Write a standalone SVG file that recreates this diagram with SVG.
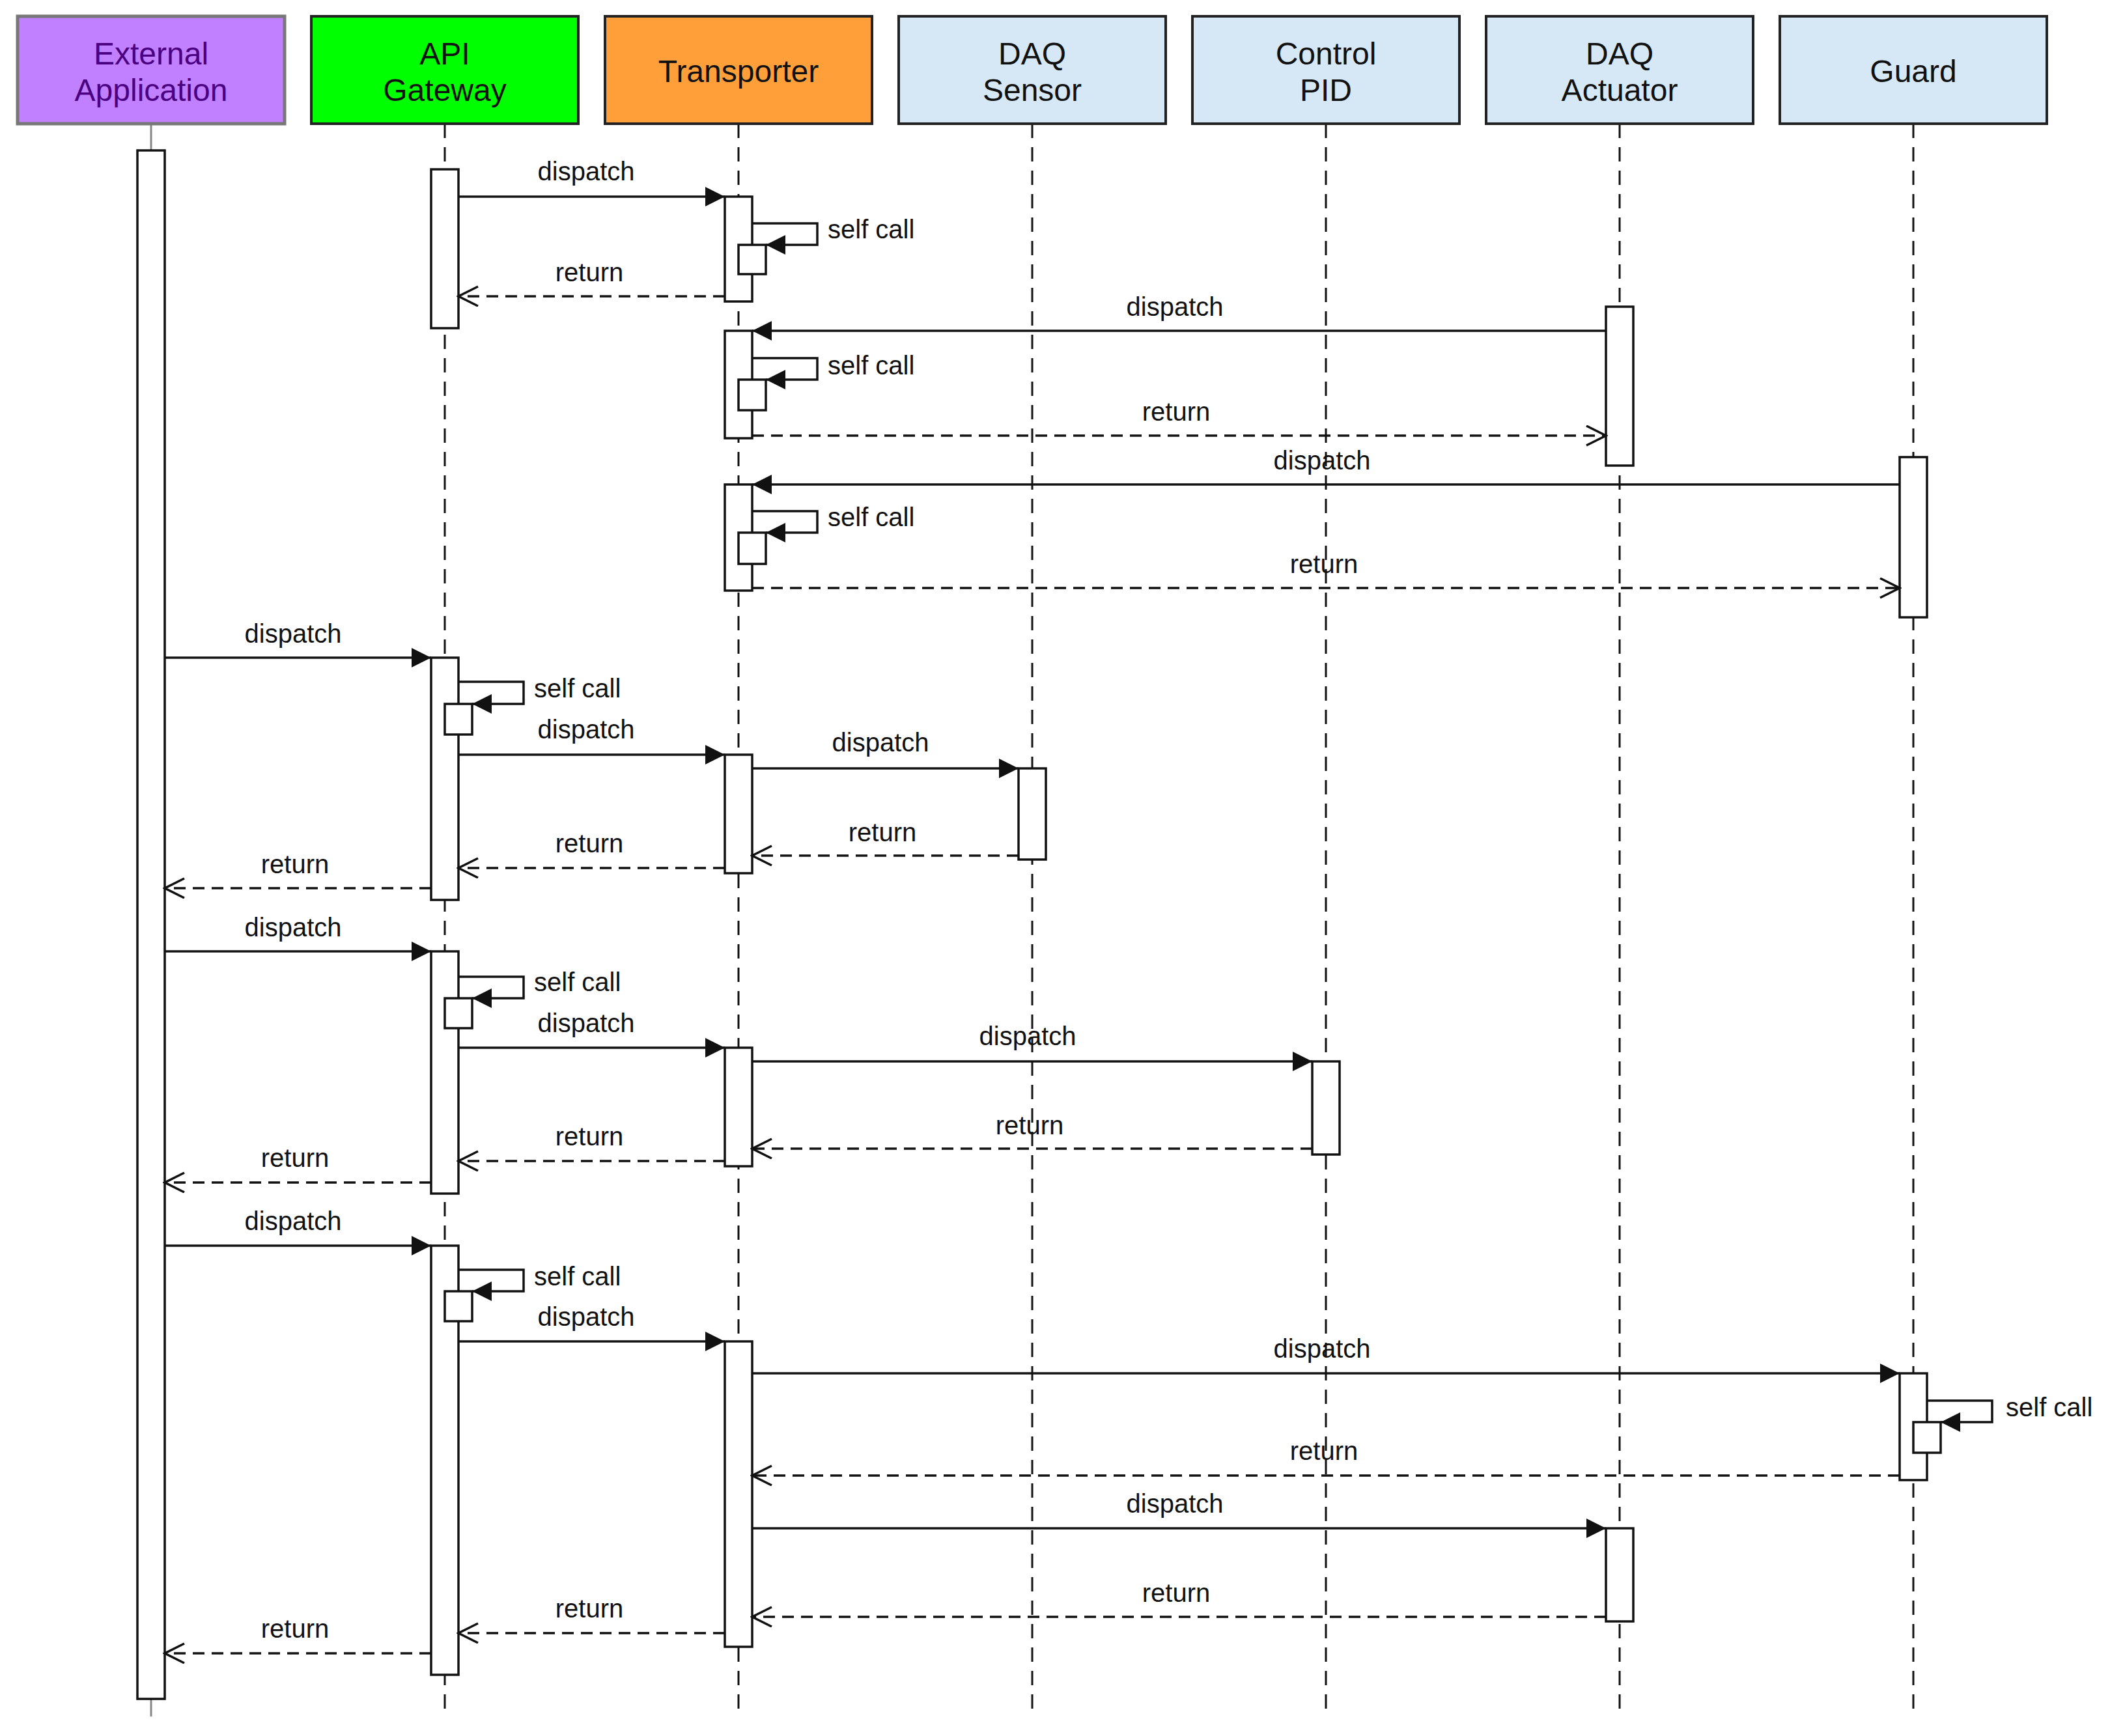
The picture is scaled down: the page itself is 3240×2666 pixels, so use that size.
<svg xmlns="http://www.w3.org/2000/svg" width="3240" height="2666" viewBox="0 0 3240 2666">
<style>
.hd{stroke:#222;stroke-width:4}
.ht{font-family:"Liberation Sans",Arial,sans-serif;font-size:48px;text-anchor:middle;fill:#111}
.ll{stroke:#111;stroke-width:3;stroke-dasharray:22 14;fill:none}
.bar{fill:#fff;stroke:#111;stroke-width:3.5}
.m{stroke:#111;stroke-width:3.5;fill:none}
.r{stroke:#111;stroke-width:3.5;fill:none;stroke-dasharray:18 11}
.lb{font-family:"Liberation Sans",Arial,sans-serif;font-size:40px;text-anchor:middle;fill:#111}
.sl{font-family:"Liberation Sans",Arial,sans-serif;font-size:40px;fill:#111}
</style>
<defs>
<marker id="f" markerUnits="userSpaceOnUse" markerWidth="32" markerHeight="32" refX="30" refY="15" orient="auto"><path d="M0,0 L30,15 L0,30 z" fill="#111"/></marker>
<marker id="o" markerUnits="userSpaceOnUse" markerWidth="34" markerHeight="34" refX="31" refY="16" orient="auto"><path d="M1,1 L31,16 L1,31" fill="none" stroke="#111" stroke-width="3.5"/></marker>
</defs>
<rect width="3240" height="2666" fill="#fff"/>
<g id="lifelines">
<line x1="232" y1="190" x2="232" y2="2636" stroke="#888" stroke-width="3"/>
<line class="ll" x1="683" y1="190" x2="683" y2="2636"/>
<line class="ll" x1="1134" y1="190" x2="1134" y2="2636"/>
<line class="ll" x1="1585" y1="190" x2="1585" y2="2636"/>
<line class="ll" x1="2036" y1="190" x2="2036" y2="2636"/>
<line class="ll" x1="2487" y1="190" x2="2487" y2="2636"/>
<line class="ll" x1="2938" y1="190" x2="2938" y2="2636"/>
</g>
<g id="ext"><rect x="27" y="25" width="410" height="165" fill="#C080FF" stroke="#777" stroke-width="5"/><text class="ht" x="232" y="99" fill="#4B0082" style="fill:#4B0082">External</text><text class="ht" x="232" y="155" style="fill:#4B0082">Application</text></g>
<g id="api"><rect class="hd" x="478" y="25" width="410" height="165" fill="#00FF00"/><text class="ht" x="683" y="99">API</text><text class="ht" x="683" y="155">Gateway</text></g>
<g id="transporter"><rect class="hd" x="929" y="25" width="410" height="165" fill="#FF9F3A"/><text class="ht" x="1134" y="126">Transporter</text></g>
<g id="sensor"><rect class="hd" x="1380" y="25" width="410" height="165" fill="#D6E8F5"/><text class="ht" x="1585" y="99">DAQ</text><text class="ht" x="1585" y="155">Sensor</text></g>
<g id="pid"><rect class="hd" x="1831" y="25" width="410" height="165" fill="#D6E8F5"/><text class="ht" x="2036" y="99">Control</text><text class="ht" x="2036" y="155">PID</text></g>
<g id="actuator"><rect class="hd" x="2282" y="25" width="410" height="165" fill="#D6E8F5"/><text class="ht" x="2487" y="99">DAQ</text><text class="ht" x="2487" y="155">Actuator</text></g>
<g id="guard"><rect class="hd" x="2733" y="25" width="410" height="165" fill="#D6E8F5"/><text class="ht" x="2938" y="126">Guard</text></g>
<g id="activations">
<rect class="bar" x="211" y="231" width="42" height="2378"/>
<rect class="bar" x="662" y="260" width="42" height="244"/>
<rect class="bar" x="1113" y="302" width="42" height="161"/>
<rect class="bar" x="1134" y="376" width="42" height="45"/>
<rect class="bar" x="2466" y="471" width="42" height="244"/>
<rect class="bar" x="1113" y="508" width="42" height="165"/>
<rect class="bar" x="1134" y="583" width="42" height="47"/>
<rect class="bar" x="2917" y="702" width="42" height="246"/>
<rect class="bar" x="1113" y="744" width="42" height="163"/>
<rect class="bar" x="1134" y="818" width="42" height="48"/>
<rect class="bar" x="662" y="1010" width="42" height="372"/>
<rect class="bar" x="683" y="1081" width="42" height="47"/>
<rect class="bar" x="1113" y="1159" width="42" height="182"/>
<rect class="bar" x="1564" y="1180" width="42" height="140"/>
<rect class="bar" x="662" y="1461" width="42" height="372"/>
<rect class="bar" x="683" y="1533" width="42" height="46"/>
<rect class="bar" x="1113" y="1609" width="42" height="182"/>
<rect class="bar" x="2015" y="1630" width="42" height="143"/>
<rect class="bar" x="662" y="1913" width="42" height="659"/>
<rect class="bar" x="683" y="1983" width="42" height="46"/>
<rect class="bar" x="1113" y="2060" width="42" height="469"/>
<rect class="bar" x="2917" y="2109" width="42" height="164"/>
<rect class="bar" x="2938" y="2184" width="42" height="47"/>
<rect class="bar" x="2466" y="2347" width="42" height="143"/>
</g>
<g id="connectors">
<line class="m" x1="704" y1="302" x2="1113" y2="302" marker-end="url(#f)"/><text class="lb" x="900" y="277">dispatch</text>
<path class="m" d="M1155,343 H1255 V376 H1176" marker-end="url(#f)"/><text class="sl" x="1271" y="366">self call</text>
<line class="r" x1="1113" y1="455" x2="704" y2="455" marker-end="url(#o)"/><text class="lb" x="905" y="432">return</text>
<line class="m" x1="2466" y1="508" x2="1155" y2="508" marker-end="url(#f)"/><text class="lb" x="1804" y="485">dispatch</text>
<path class="m" d="M1155,550 H1255 V583 H1176" marker-end="url(#f)"/><text class="sl" x="1271" y="575">self call</text>
<line class="r" x1="1155" y1="669" x2="2466" y2="669" marker-end="url(#o)"/><text class="lb" x="1806" y="646">return</text>
<line class="m" x1="2917" y1="744" x2="1155" y2="744" marker-end="url(#f)"/><text class="lb" x="2030" y="721">dispatch</text>
<path class="m" d="M1155,785 H1255 V818 H1176" marker-end="url(#f)"/><text class="sl" x="1271" y="808">self call</text>
<line class="r" x1="1155" y1="903" x2="2917" y2="903" marker-end="url(#o)"/><text class="lb" x="2033" y="880">return</text>

<line class="m" x1="253" y1="1010" x2="662" y2="1010" marker-end="url(#f)"/><text class="lb" x="450" y="987">dispatch</text>
<path class="m" d="M704,1047 H804 V1081 H725" marker-end="url(#f)"/><text class="sl" x="820" y="1071">self call</text>
<line class="m" x1="704" y1="1159" x2="1113" y2="1159" marker-end="url(#f)"/><text class="lb" x="900" y="1134">dispatch</text>
<line class="m" x1="1155" y1="1180" x2="1564" y2="1180" marker-end="url(#f)"/><text class="lb" x="1352" y="1154">dispatch</text>
<line class="r" x1="1564" y1="1314" x2="1155" y2="1314" marker-end="url(#o)"/><text class="lb" x="1355" y="1292">return</text>
<line class="r" x1="1113" y1="1333" x2="704" y2="1333" marker-end="url(#o)"/><text class="lb" x="905" y="1309">return</text>
<line class="r" x1="662" y1="1364" x2="253" y2="1364" marker-end="url(#o)"/><text class="lb" x="453" y="1341">return</text>

<line class="m" x1="253" y1="1461" x2="662" y2="1461" marker-end="url(#f)"/><text class="lb" x="450" y="1438">dispatch</text>
<path class="m" d="M704,1500 H804 V1533 H725" marker-end="url(#f)"/><text class="sl" x="820" y="1522">self call</text>
<line class="m" x1="704" y1="1609" x2="1113" y2="1609" marker-end="url(#f)"/><text class="lb" x="900" y="1585">dispatch</text>
<line class="m" x1="1155" y1="1630" x2="2015" y2="1630" marker-end="url(#f)"/><text class="lb" x="1578" y="1605">dispatch</text>
<line class="r" x1="2015" y1="1764" x2="1155" y2="1764" marker-end="url(#o)"/><text class="lb" x="1581" y="1742">return</text>
<line class="r" x1="1113" y1="1783" x2="704" y2="1783" marker-end="url(#o)"/><text class="lb" x="905" y="1759">return</text>
<line class="r" x1="662" y1="1816" x2="253" y2="1816" marker-end="url(#o)"/><text class="lb" x="453" y="1792">return</text>

<line class="m" x1="253" y1="1913" x2="662" y2="1913" marker-end="url(#f)"/><text class="lb" x="450" y="1889">dispatch</text>
<path class="m" d="M704,1950 H804 V1983 H725" marker-end="url(#f)"/><text class="sl" x="820" y="1974">self call</text>
<line class="m" x1="704" y1="2060" x2="1113" y2="2060" marker-end="url(#f)"/><text class="lb" x="900" y="2036">dispatch</text>
<line class="m" x1="1155" y1="2109" x2="2917" y2="2109" marker-end="url(#f)"/><text class="lb" x="2030" y="2085">dispatch</text>
<path class="m" d="M2959,2151 H3059 V2184 H2980" marker-end="url(#f)"/><text class="sl" x="3080" y="2175">self call</text>
<line class="r" x1="2917" y1="2266" x2="1155" y2="2266" marker-end="url(#o)"/><text class="lb" x="2033" y="2242">return</text>
<line class="m" x1="1155" y1="2347" x2="2466" y2="2347" marker-end="url(#f)"/><text class="lb" x="1804" y="2323">dispatch</text>
<line class="r" x1="2466" y1="2483" x2="1155" y2="2483" marker-end="url(#o)"/><text class="lb" x="1806" y="2460">return</text>
<line class="r" x1="1113" y1="2508" x2="704" y2="2508" marker-end="url(#o)"/><text class="lb" x="905" y="2484">return</text>
<line class="r" x1="662" y1="2539" x2="253" y2="2539" marker-end="url(#o)"/><text class="lb" x="453" y="2515">return</text>
</g>
</svg>
